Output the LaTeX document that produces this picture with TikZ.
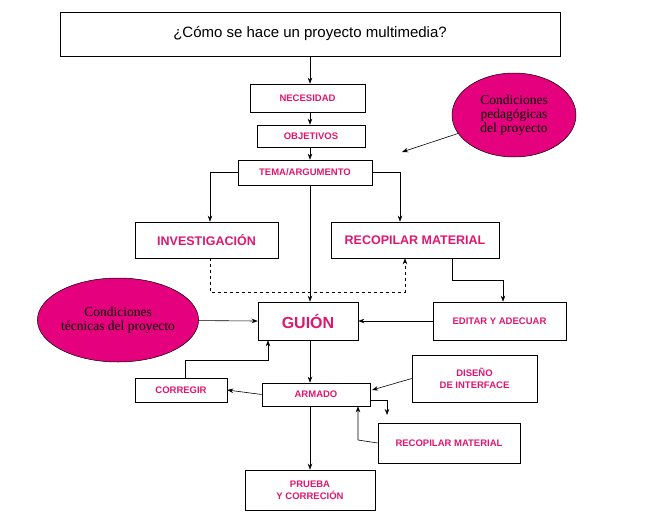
\documentclass[tikz,border=0pt]{standalone}
\usepackage{fontspec}
\setmainfont{Liberation Sans}
\newfontfamily\serifA{Liberation Serif}
\usetikzlibrary{arrows.meta,shapes.geometric}
\definecolor{pk}{HTML}{E0166E}
\definecolor{mg}{HTML}{E5007D}
\begin{document}
\begin{tikzpicture}[x=1pt,y=-1pt,
 bx/.style={draw,line width=0.6pt,minimum width=#1,inner sep=0pt,align=center,text=pk,font=\bfseries\fontsize{9.5}{12}\selectfont},
 el/.style={ellipse,fill=mg,draw=black,line width=0.5pt,align=center,font=\serifA\fontsize{13.5}{14}\selectfont,inner sep=0pt},
 ar/.style={-{Stealth[length=6pt,width=4.5pt]},line width=0.6pt}]
\useasboundingbox (0,0) rectangle (663,530);
\node[draw,line width=0.8pt,minimum width=500,minimum height=44,font=\fontsize{15}{17}\selectfont] (t) at (310,34) {¿Cómo se hace un proyecto multimedia?};
\node[bx=115,minimum height=28] (nec) at (307.5,98) {NECESIDAD};
\node[bx=108,minimum height=22] (obj) at (311,136) {OBJETIVOS};
\node[bx=134,minimum height=25] (tema) at (305,172.5) {TEMA/ARGUMENTO};
\node[bx=143,minimum height=36,font=\bfseries\fontsize{12.5}{14}\selectfont] (inv) at (206.5,240) {INVESTIGACIÓN};
\node[bx=168,minimum height=36,font=\bfseries\fontsize{12.5}{14}\selectfont] (rec) at (415,240) {RECOPILAR MATERIAL};
\node[bx=100,minimum height=38,font=\bfseries\fontsize{16}{18}\selectfont] (gui) at (308,321) {GUIÓN};
\node[bx=133,minimum height=38] (edi) at (499.5,321) {EDITAR Y ADECUAR};
\node[bx=108,minimum height=23] (arm) at (316,394.5) {ARMADO};
\node[bx=92,minimum height=24] (cor) at (181,390) {CORREGIR};
\node[bx=125,minimum height=47] (dis) at (474.5,378.5) {DISEÑO\\DE INTERFACE};
\node[bx=142,minimum height=40] (rec2) at (449,443) {RECOPILAR MATERIAL};
\node[bx=130,minimum height=40] (pru) at (310,490) {PRUEBA\\Y CORRECIÓN};
\node[el,minimum width=124,minimum height=84] (e1) at (514,115) {Condiciones\\pedagógicas\\del proyecto};
\node[el,minimum width=156,minimum height=84] (e2) at (118,320) {Condiciones\\técnicas del proyecto};
\coordinate (p1) at (402,152);
\draw[ar] (t.south -| 310,0) -- (nec.north -| 310,0);
\draw[ar] (nec.south -| 310,0) -- (obj.north -| 310,0);
\draw[ar] (obj.south -| 310,0) -- (tema.north -| 310,0);
\draw[ar] (e1) -- (p1);
\draw[ar] (tema.west) -| (inv.north -| 210,0);
\draw[ar] (tema.east) -| (rec.north -| 400,0);
\draw[ar,dashed] (inv.south -| 210,0) -- (210,292) -| (rec.south -| 405,0);
\draw[ar] (tema.south -| 310,0) -- (gui.north -| 310,0);
\draw[ar] (e2) -- (gui.west);
\draw[ar] (rec.south -| 452,0) -- (452,280) -| (edi.north -| 503,0);
\draw[ar] (edi.west) -- (gui.east);
\draw[ar] (gui.south -| 310,0) -- (arm.north -| 310,0);
\draw[ar] (arm.west) -- (cor.east);
\draw[ar] (cor.north -| 185,0) -- (185,360) -| (gui.south -| 268,0);
\draw[ar] (dis.west) -- (372,390);
\draw[ar] (arm.east |- 0,400) -- (387,400) -- (387,415);
\draw[ar] (rec2.west) -- (358,440) -- (arm.south -| 358,0);
\draw[ar] (arm.south -| 310,0) -- (pru.north -| 310,0);
\end{tikzpicture}
\end{document}
